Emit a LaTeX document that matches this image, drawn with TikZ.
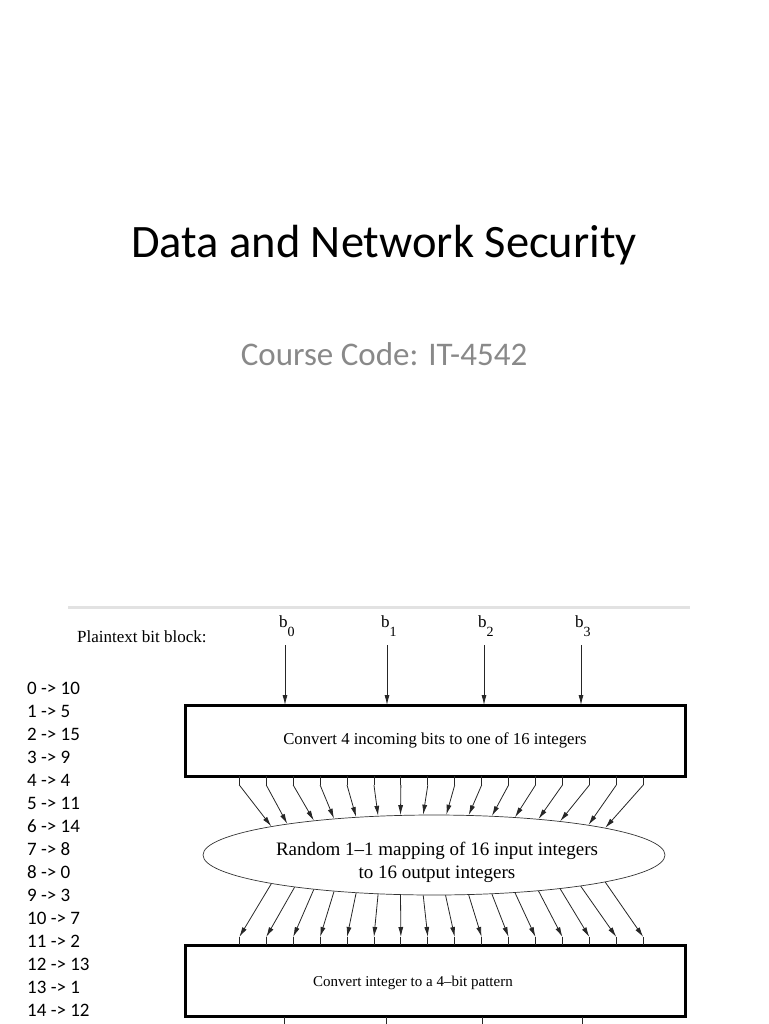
\documentclass[tikz,border=0pt]{standalone}
\usepackage{fontspec}
\setmainfont{Liberation Serif}
\newfontfamily\slidefont{Carlito}
\usepackage{xcolor}
\usetikzlibrary{arrows.meta,positioning,shapes.geometric}
\definecolor{subgray}{RGB}{137,137,137}
\definecolor{rulegray}{RGB}{226,226,226}

\begin{document}
\begin{tikzpicture}[x=1pt,y=-1pt,
      title_txt/.style={
         anchor=base,
         inner sep=0pt,
         font=\slidefont\fontsize{46.5}{54}\selectfont},
      sub_txt/.style={
         anchor=base,
         inner sep=0pt,
         text=subgray,
         font=\slidefont\fontsize{33}{40}\selectfont},
      map_txt/.style={
         anchor=base west,
         inner sep=0pt,
         font=\slidefont\fontsize{19}{23}\selectfont},
      serif_txt/.style={
         inner sep=0pt,
         font=\fontsize{17}{20}\selectfont},
      block_box/.style={
         draw=black,
         line width=3pt,
         minimum width=500pt,
         minimum height=71pt,
         inner sep=0pt,
         font=\fontsize{16.7}{20}\selectfont},
      map_ellipse/.style={
         ellipse,
         draw=black!80,
         line width=0.7pt,
         minimum width=462pt,
         minimum height=80pt,
         inner sep=0pt},
      ellipse_txt/.style={
         align=center,
         inner sep=0pt,
         font=\fontsize{19}{23}\selectfont},
      arrow_thin/.style={
         -{Latex[length=10pt,width=5pt]},
         line width=0.8pt,
         draw=black!85,
         },
      tick_thin/.style={
         line width=0.8pt,
         draw=black!85,
         }
]
      \useasboundingbox (0,0) rectangle (768,1024);

      %slide title
      \node[title_txt] (title) at (384,257) {Data and Network Security};
      \node[sub_txt] (code) at (384,365) {Course Code: IT-4542};

      %rule above the figure
      \draw[line width=3pt,rulegray] (68,607) -- (690,607);

      %mapping table
      \foreach \k/\v [count=\r from 0] in {0/10,1/5,2/15,3/9,4/4,5/11,6/14,7/8,
          8/0,9/3,10/7,11/2,12/13,13/1,14/12}
      \node[map_txt] (row\k) at (27,{694+23*\r}) {\k{} -> \v};

      %input bits
      \node[serif_txt,anchor=base west] (plain) at (77,642) {Plaintext bit block:};
      \foreach \n/\x in {0/285,1/387,2/484,3/581} {
        \node[serif_txt,anchor=base west] (b\n) at ({\x-6},627)
          {b\raisebox{-9pt}{\fontsize{14}{14}\selectfont\n}};
        \coordinate (in\n) at (\x,645);
        \coordinate (top\n) at (\x,705);
        \draw [arrow_thin] (in\n) -- (top\n);
      }

      %blocks
      \node[block_box] (conv) at (435,740.5) {Convert 4 incoming bits to one of 16 integers};
      \node[map_ellipse] (map) at (434,855) {};
      \node[ellipse_txt] (maptxt) at (437,862)
        {Random 1–1 mapping of 16 input integers\\to 16 output integers};
      \node[block_box,label={[inner sep=0pt,font=\fontsize{15}{18}\selectfont,
          xshift=-22pt,yshift=-2pt]center:Convert integer to a 4–bit pattern}]
        (pat) at (435,981) {};

      %16 lines in and out of the mapping
      \foreach \i in {0,...,15} {
        \pgfmathsetmacro\x{239.3+26.93*\i}
        \pgfmathsetmacro\c{(\x-441)*0.84/231}
        \pgfmathsetmacro\a{atan2(40*sqrt(1-\c*\c),231*\c)}
        \pgfmathsetmacro\d{(\x-441)*0.83/231}
        \pgfmathsetmacro\e{atan2(-40*sqrt(1-\d*\d),231*\d)}
        \coordinate (u\i) at (\x,776);
        \coordinate (v\i) at (\x,785);
        \coordinate (w\i) at (\x,937);
        \coordinate (z\i) at (\x,945);
        \draw [tick_thin] (u\i) -- (v\i);
        \draw [arrow_thin] (v\i) -- (map.\a);
        \draw [arrow_thin] (map.\e) -- (w\i);
        \draw [tick_thin] (w\i) -- (z\i);
      }

      %output bits
      \foreach \n/\x in {0/284,1/386,2/482,3/582} {
        \coordinate (bot\n) at (\x,1017);
        \coordinate (out\n) at (\x,1030);
        \draw [tick_thin] (bot\n) -- (out\n);
      }

\end{tikzpicture}
\end{document}
